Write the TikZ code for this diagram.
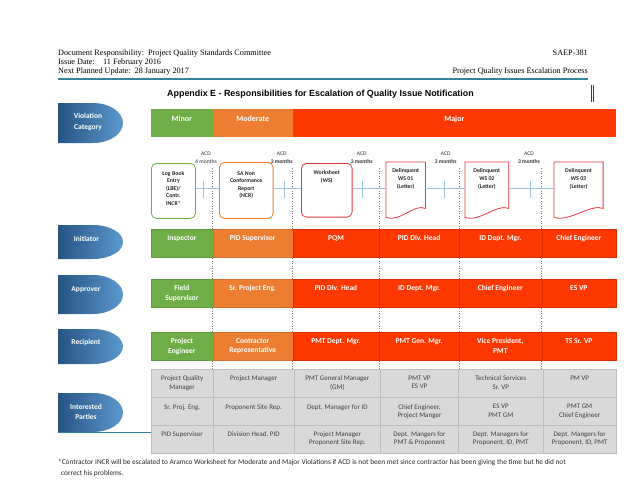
\documentclass[tikz,border=0pt]{standalone}
\usepackage{fontspec}
\newfontfamily\calfont{Carlito}
\newfontfamily\hdrfont{Liberation Serif}
\newfontfamily\arlfont{Liberation Sans}
\definecolor{cgreen}{RGB}{112,173,71}
\definecolor{corange}{RGB}{237,125,49}
\definecolor{cred}{RGB}{255,55,0}
\definecolor{boxred}{RGB}{229,57,63}
\definecolor{cteal}{RGB}{49,132,155}
\definecolor{cblueD}{RGB}{38,84,132}
\definecolor{cblueL}{RGB}{92,152,206}
\definecolor{tlblue}{RGB}{157,195,230}
\definecolor{tgray}{RGB}{217,217,217}
\definecolor{tline}{RGB}{190,190,190}
\definecolor{ttext}{RGB}{64,64,64}
\definecolor{dotc}{RGB}{125,125,125}
\tikzset{
  hdrtxt/.style={font=\hdrfont\fontsize{8.2}{9}\selectfont, inner sep=0},
  cellbox/.style={anchor=north west, inner sep=0, outer sep=0, line width=0.3pt},
  celltxt/.style={font=\calfont\bfseries\fontsize{7.5}{9.8}\selectfont, text=white, align=center, inner sep=0, anchor=north},
  lefttxt/.style={font=\calfont\bfseries\fontsize{7.5}{10.5}\selectfont, text=white, align=center, inner sep=0},
  tbox/.style={rounded corners=5pt, line width=0.8pt, anchor=north west, inner sep=0},
  boxtxt/.style={font=\calfont\bfseries\fontsize{5.8}{7.5}\selectfont, text=black!85, align=center, inner sep=0, anchor=north},
  acdtxt/.style={font=\calfont\fontsize{5.6}{8}\selectfont, text=black!80, align=center, inner sep=0, anchor=north},
  tl/.style={draw=tlblue, line width=0.8pt},
  dotl/.style={draw=dotc, dotted, line width=0.5pt},
  tcell/.style={anchor=north west, inner sep=0, outer sep=0, fill=tgray, draw=tline, line width=0.6pt},
  ttxt/.style={font=\calfont\fontsize{7}{8.4}\selectfont, text=ttext, align=center, inner sep=0, anchor=north},
  docline/.style={draw=boxred, line width=0.8pt, fill=white}
}
\begin{document}
\begin{tikzpicture}[x=1pt,y=-1pt]
\fill[white] (0,0) rectangle (638,493);
\useasboundingbox (0,0) rectangle (638,493);

% header
\node[hdrtxt, anchor=base west] (h1) at (58,55.5) {Document Responsibility:\ \ Project Quality Standards Committee};
\node[hdrtxt, anchor=base west] (h2) at (58,64.5) {Issue Date:\ \ \ \ 11 February 2016};
\node[hdrtxt, anchor=base west] (h3) at (58,73.5) {Next Planned Update:\ \ 28 January 2017};
\node[hdrtxt, anchor=base east] (h4) at (588,55.5) {SAEP-381};
\node[hdrtxt, anchor=base east] (h5) at (588,73.5) {Project Quality Issues Escalation Process};
\draw[cteal, line width=1.5pt] (58,79) -- (588,79);

% title
\node[font=\arlfont\bfseries\fontsize{8.9}{11}\selectfont, inner sep=0] (title) at (320.5,94) {Appendix E - Responsibilities for Escalation of Quality Issue Notification};
\draw[black!75, line width=0.9pt] (591.3,85) -- (591.3,102);
\draw[black!75, line width=0.9pt] (593.6,85) -- (593.6,102);

% left category shapes
\newcommand\leftshape[5]{%
  \shade[left color=cblueD, right color=cblueL] (58,#1) -- (93,#1) arc[start angle=90, end angle=-90, x radius=30pt, y radius=#3 pt] -- (58,#2) -- cycle;
}
\leftshape{103}{143}{20}{}{}
\node[lefttxt] (vc) at (88,122.2) {Violation\\Category};
\leftshape{225}{259}{17}{}{}
\node[lefttxt] (ini) at (86.5,238.5) {Initiator};
\leftshape{275}{314}{19.5}{}{}
\node[lefttxt] (app) at (86,289.5) {Approver};
\leftshape{329}{364}{17.5}{}{}
\node[lefttxt] (rec) at (86,342.5) {Recipient};
\leftshape{393}{432}{19.5}{}{}
\node[lefttxt] (ip) at (86,411.7) {Interested\\Parties};
\draw[cteal, line width=1pt] (58,432) -- (151,432);

% dotted column lines
\foreach \x in {212.7,292.7,379.3,459,541.7}{
  \draw[dotl] (\x,168) -- (\x,369);
}

% violation category bar
\node[cellbox, fill=cgreen, minimum width=61.7pt, minimum height=28pt] (vminor) at (151,109) {};
\node[cellbox, fill=corange, minimum width=80pt, minimum height=28pt] (vmod) at (212.7,109) {};
\node[cellbox, fill=cred, minimum width=323.3pt, minimum height=28pt] (vmaj) at (292.7,109) {};
\node[celltxt, font=\calfont\bfseries\fontsize{8}{10}\selectfont] (vminor-t) at ([yshift=-6.3pt]vminor.north) {Minor};
\node[celltxt, font=\calfont\bfseries\fontsize{8}{10}\selectfont] (vmod-t) at ([yshift=-6.3pt]vmod.north) {Moderate};
\node[celltxt, font=\calfont\bfseries\fontsize{8}{10}\selectfont] (vmaj-t) at ([yshift=-6.3pt]vmaj.north) {Major};

% timeline
\coordinate (tlc) at (0,188);
\node[tbox, draw=cgreen, minimum width=44pt, minimum height=55pt] (lbe) at (151,163) {};
\node[boxtxt] (lbe-t) at ([yshift=-8.2pt]lbe.north) {Log Book\\Entry\\(LBE)/\\Contr.\\INCR*};
\node[tbox, draw=corange, minimum width=53.7pt, minimum height=56pt] (ncr) at (219,162) {};
\node[boxtxt] (ncr-t) at ([yshift=-9pt]ncr.north) {SA Non\\Conformance\\Report\\(NCR)};
\node[tbox, draw=boxred, minimum width=50.7pt, minimum height=53.7pt] (ws) at (301,163) {};
\node[boxtxt] (ws-t) at ([yshift=-7.4pt]ws.north) {Worksheet\\(WS)};
\foreach \n/\x/\w/\t in {ws1/386/39/01, ws2/465/43.3/02, ws3/554/48.7/03}{
  \node[anchor=north west, inner sep=0, minimum width=\w pt, minimum height=56pt] (\n) at (\x,162) {};
  \draw[docline] (\n.north west) -- (\n.north east) -- ([yshift=10pt]\n.south east)
     .. controls ([xshift=-12pt,yshift=15pt]\n.south east) and ([xshift=15pt,yshift=-4pt]\n.south west) .. ([yshift=1pt]\n.south west) -- cycle;
  \node[boxtxt, font=\calfont\bfseries\fontsize{5.8}{8.2}\selectfont] (\n-t) at ([yshift=-6pt]\n.north) {Delinquent\\WS \t\\(Letter)};
}
\draw[tl] (lbe.east |- tlc) -- (ncr.west |- tlc);
\draw[tl] (ncr.east |- tlc) -- (ws.west |- tlc);
\draw[tl] (ws.east |- tlc) -- (ws1.west |- tlc);
\draw[tl] (ws1.east |- tlc) -- (ws2.west |- tlc);
\draw[tl] (ws2.east |- tlc) -- (ws3.west |- tlc);
\foreach \x in {203,284,362.7,444,530.7}{
  \draw[tl] (\x,181) -- (\x,198);
}
\node[acdtxt] (acd1) at (206,151.5) {ACD\\6 months};
\node[acdtxt] (acd2) at (281.7,151.5) {ACD\\\textbf{3 months}};
\node[acdtxt] (acd3) at (361.7,151.5) {ACD\\\textbf{3 months}};
\node[acdtxt] (acd4) at (445.7,151.5) {ACD\\\textbf{3 months}};
\node[acdtxt] (acd5) at (529,151.5) {ACD\\\textbf{3 months}};

% role rows
\foreach \y/\p/\ta/\tb/\tc/\td/\te/\tf in {
  229/i/Inspector/PID Supervisor/PQM/PID Div. Head/ID Dept. Mgr./Chief Engineer,
  279/a/{Field\\Supervisor}/Sr. Project Eng./PID Div. Head/ID Dept. Mgr./Chief Engineer/ES VP,
  332/r/{Project\\Engineer}/{Contractor\\Representative}/PMT Dept. Mgr./PMT Gen. Mgr./{Vice President,\\PMT}/TS Sr. VP}{
  \node[cellbox, fill=cgreen, draw=cgreen!88!black, minimum width=61.7pt, minimum height=28pt] (\p1) at (151,\y) {};
  \node[cellbox, fill=corange, draw=corange!88!black, minimum width=80pt, minimum height=28pt] (\p2) at (212.7,\y) {};
  \node[cellbox, fill=cred, draw=cred!85!black, minimum width=86.6pt, minimum height=28pt] (\p3) at (292.7,\y) {};
  \node[cellbox, fill=cred, draw=cred!85!black, minimum width=79.7pt, minimum height=28pt] (\p4) at (379.3,\y) {};
  \node[cellbox, fill=cred, draw=cred!85!black, minimum width=82.7pt, minimum height=28pt] (\p5) at (459,\y) {};
  \node[cellbox, fill=cred, draw=cred!85!black, minimum width=74.3pt, minimum height=28pt] (\p6) at (541.7,\y) {};
  \node[celltxt] (\p1-t) at ([yshift=-6pt]\p1.north) {\ta};
  \node[celltxt] (\p2-t) at ([yshift=-6pt]\p2.north) {\tb};
  \node[celltxt] (\p3-t) at ([yshift=-6pt]\p3.north) {\tc};
  \node[celltxt] (\p4-t) at ([yshift=-6pt]\p4.north) {\td};
  \node[celltxt] (\p5-t) at ([yshift=-6pt]\p5.north) {\te};
  \node[celltxt] (\p6-t) at ([yshift=-6pt]\p6.north) {\tf};
}

% interested parties table
\foreach \y/\h/\p/\ta/\tb/\tc/\td/\te/\tf in {
  369.3/28.4/t/{Project Quality\\Manager}/Project Manager/{PMT General Manager\\(GM)}/{PMT VP\\ES VP}/{Technical Services\\Sr. VP}/PM VP,
  397.7/27.3/u/Sr. Proj. Eng./Proponent Site Rep./Dept. Manager for ID/{Chief Engineer,\\Project Manger}/{ES VP\\PMT GM}/{PMT GM\\Chief Engineer},
  425/28.3/v/PID Supervisor/{Division Head, PID}/{Project Manager\\Proponent Site Rep.}/{Dept. Mangers for\\PMT \& Proponent}/{Dept. Managers for\\Proponent, ID, PMT}/{Dept. Mangers for\\Proponent, ID, PMT}}{
  \node[tcell, minimum width=62.3pt, minimum height=\h pt] (\p1) at (151,\y) {};
  \node[tcell, minimum width=80.7pt, minimum height=\h pt] (\p2) at (213.3,\y) {};
  \node[tcell, minimum width=86.7pt, minimum height=\h pt] (\p3) at (294,\y) {};
  \node[tcell, minimum width=77.6pt, minimum height=\h pt] (\p4) at (380.7,\y) {};
  \node[tcell, minimum width=85pt, minimum height=\h pt] (\p5) at (458.3,\y) {};
  \node[tcell, minimum width=72.7pt, minimum height=\h pt] (\p6) at (543.3,\y) {};
  \node[ttxt] (\p1-t) at ([yshift=-6.3pt]\p1.north) {\ta};
  \node[ttxt] (\p2-t) at ([yshift=-6.3pt]\p2.north) {\tb};
  \node[ttxt] (\p3-t) at ([yshift=-6.3pt]\p3.north) {\tc};
  \node[ttxt] (\p4-t) at ([yshift=-6.3pt]\p4.north) {\td};
  \node[ttxt] (\p5-t) at ([yshift=-6.3pt]\p5.north) {\te};
  \node[ttxt] (\p6-t) at ([yshift=-6.3pt]\p6.north) {\tf};
}

% footnote
\node[font=\calfont\fontsize{7.3}{9}\selectfont, text=black!85, inner sep=0, anchor=base west] (fn1) at (58,464.5) {*Contractor INCR will be escalated to Aramco Worksheet for Moderate and Major Violations if ACD is not been met since contractor has been giving the time but he did not};
\node[font=\calfont\fontsize{7.3}{9}\selectfont, text=black!85, inner sep=0, anchor=base west] (fn2) at (61,475) {correct his problems.};
\end{tikzpicture}
\end{document}
